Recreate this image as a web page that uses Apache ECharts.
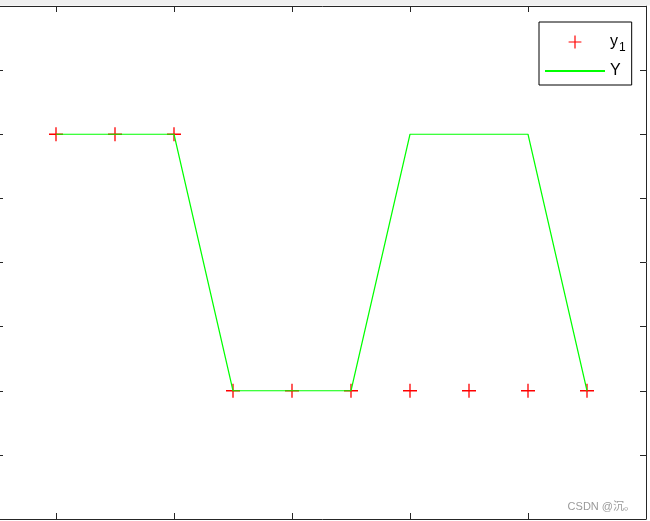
<!DOCTYPE html>
<html>
<head>
<meta charset="utf-8">
<script src="https://cdn.jsdelivr.net/npm/echarts@6/dist/echarts.min.js"></script>
<style>
html,body{margin:0;padding:0;background:#fff;}
#c{width:650px;height:521px;}
</style>
</head>
<body>
<div id="c"></div>
<script>
// Data
var xValues = [1, 2, 3, 4, 5, 6, 7, 8, 9, 10];
var y1Values = [1, 1, 1, 0, 0, 0, 0, 0, 0, 0];
var YValues = [1, 1, 1, 0, 0, 0, 1, 1, 1, 0];
var xTickValues = [1, 3, 5, 7, 9];
var seriesNames = ['y1', 'Y'];

function zip(xs, ys) { return xs.map(function (x, i) { return [x, ys[i]]; }); }

var plusPath = 'path://M6.35,0H7.65V6.35H14V7.65H7.65V14H6.35V7.65H0V6.35H6.35Z';
var axisColor = '#262626';

function xAx(pos) {
  return {
    type: 'value', position: pos, min: 0, max: 11,
    axisLine: { show: true, onZero: false, lineStyle: { color: axisColor, width: 1 } },
    axisTick: { show: true, inside: true, length: 6, customValues: xTickValues, lineStyle: { color: axisColor } },
    axisLabel: { show: false },
    splitLine: { show: false }
  };
}
function yAx(pos) {
  return {
    type: 'value', position: pos, min: -0.5, max: 1.5, interval: 0.25,
    axisLine: { show: true, onZero: false, lineStyle: { color: axisColor, width: 1 } },
    axisTick: { show: true, inside: true, length: 6, lineStyle: { color: axisColor } },
    axisLabel: { show: false },
    splitLine: { show: false }
  };
}

var chart = echarts.init(document.getElementById('c'), null, { renderer: 'canvas' });
chart.setOption({
  animation: false,
  backgroundColor: '#ffffff',
  grid: { left: -3, right: 4, top: 6, bottom: 2, outerBoundsMode: 'none' },
  xAxis: [xAx('bottom'), xAx('top')],
  yAxis: [yAx('left'), yAx('right')],
  legend: {
    orient: 'vertical',
    left: 539, top: 22,
    padding: [8, 6, 6, 5],
    itemWidth: 60, itemHeight: 16, itemGap: 9,
    backgroundColor: '#ffffff',
    borderColor: '#000000', borderWidth: 1, borderRadius: 0,
    data: [
      { name: seriesNames[0], lineStyle: { opacity: 0 } },
      { name: seriesNames[1], itemStyle: { opacity: 0 } }
    ],
    formatter: function (n) { return n === 'y1' ? '{a|y}{s|1}' : '{a|Y}'; },
    textStyle: {
      color: '#000',
      rich: {
        a: { fontSize: 16, fontFamily: 'Liberation Sans, Arial, sans-serif', color: '#000', lineHeight: 16 },
        s: { fontSize: 12, fontFamily: 'Liberation Sans, Arial, sans-serif', color: '#000', lineHeight: 16, padding: [12, 0, 0, 1] }
      }
    }
  },
  series: [
    {
      name: seriesNames[0], type: 'line',
      data: zip(xValues, y1Values),
      symbol: plusPath, symbolSize: 14, showSymbol: true,
      lineStyle: { opacity: 0, width: 0 },
      itemStyle: { color: '#ff0000', borderWidth: 0 },
      z: 2
    },
    {
      name: seriesNames[1], type: 'line',
      data: zip(xValues, YValues),
      symbol: 'none',
      lineStyle: { color: '#00ff00', width: 1.2 },
      itemStyle: { color: '#00ff00' },
      z: 3
    }
  ],
  graphic: [
    { type: 'rect', left: 0, top: 0, shape: { width: 650, height: 5.5 }, style: { fill: '#f0f0f0' }, z: 100 },
    { type: 'text', right: 15, bottom: 9, style: { text: 'CSDN @沉。', fill: '#9a9a9a', font: '11px "Liberation Sans", "Noto Sans CJK SC", sans-serif' }, z: 100 }
  ]
});
</script>
</body>
</html>
